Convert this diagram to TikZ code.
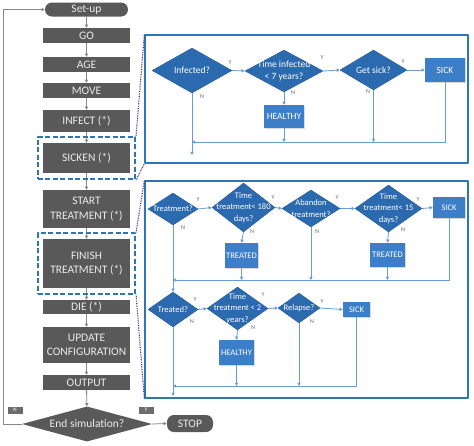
\documentclass[tikz,border=0pt]{standalone}
\usepackage{fontspec}
\setmainfont{Carlito}
\usetikzlibrary{shapes.geometric,arrows.meta,fit,shadows}
\definecolor{boxgray}{RGB}{89,89,89}
\definecolor{linegray}{RGB}{135,135,135}
\definecolor{frameblue}{RGB}{46,117,182}
\definecolor{diablue}{RGB}{44,106,176}
\definecolor{boxblue}{RGB}{60,127,200}
\definecolor{flowblue}{RGB}{105,155,212}
\definecolor{dotblue}{RGB}{58,58,140}
\definecolor{labgray}{RGB}{95,102,118}
\tikzset{
  proc/.style={rectangle, fill=boxgray, text=white!92!black, minimum width=87, inner sep=0pt,
    align=center, font=\fontsize{11.5}{14.5}\selectfont},
  term/.style={proc, rounded corners=7pt},
  decis/.style={diamond, fill=diablue, draw=diablue!85!black, line width=0.4pt, inner sep=0pt},
  dtxt/.style={text=white, align=center, font=\fontsize{9.5}{11.5}\selectfont},
  stxt/.style={text=white, align=center, font=\fontsize{8.5}{11.5}\selectfont},
  act/.style={rectangle, fill=boxblue, text=white, inner sep=0pt,
    drop shadow={shadow xshift=1pt, shadow yshift=-1pt, opacity=0.3}},
  panel/.style={rectangle, draw=frameblue, line width=1.3pt, inner sep=0pt},
  zoombox/.style={rectangle, draw=frameblue, line width=1.7pt, dash pattern=on 5pt off 2.5pt},
  dots/.style={draw=dotblue, line width=1.1pt, dash pattern=on 0.8pt off 0.9pt},
  flow/.style={draw=linegray, line width=0.8pt},
  pflow/.style={draw=flowblue, line width=0.8pt},
  yn/.style={text=labgray, inner sep=0pt, font=\fontsize{6}{6}\selectfont},
  flag/.style={fill=linegray!80!black, text=white, inner sep=0pt, minimum width=15, minimum height=7,
    font=\fontsize{5.5}{5.5}\selectfont}
}
\begin{document}
\begin{tikzpicture}[x=1pt, y=-1pt, >={Triangle[length=3.2pt,width=3.2pt]}, line join=round]
  \useasboundingbox (0,0) rectangle (474,445);

  % main loop of the model
  \node[term, minimum width=83, minimum height=14] (setup) at (86.5,9.5) {Set-up};
  \node[proc, minimum height=15] (go) at (86.5,35.5) {GO};
  \node[proc, minimum height=15] (age) at (86.5,64.5) {AGE};
  \node[proc, minimum height=15] (move) at (86.5,90.5) {MOVE};
  \node[proc, minimum height=22] (infect) at (86.5,121) {INFECT (*)};
  \node[proc, minimum height=30] (sicken) at (86.5,158) {SICKEN (*)};
  \node[proc, minimum height=38] (start) at (86.5,209) {START\\TREATMENT (*)};
  \node[proc, minimum height=49] (finish) at (86.5,263.5) {FINISH\\TREATMENT (*)};
  \node[proc, minimum height=14] (die) at (86.5,307) {DIE (*)};
  \node[proc, minimum height=36] (update) at (86.5,345) {UPDATE\\CONFIGURATION};
  \node[proc, minimum height=15] (output) at (86.5,382.5) {OUTPUT};
  \node[diamond, fill=boxgray, inner sep=0pt, minimum width=130, minimum height=35,
    label={[text=white!92!black, font=\fontsize{11.5}{13}\selectfont]center:End simulation?}] (endsim) at (87,424) {};
  \node[term, minimum width=46, minimum height=17] (stop) at (190,423.5) {STOP};
  \node[flag] (fn) at (15,410) {N};
  \node[flag] (fy) at (146,410) {Y};
  \coordinate (lp) at (3,424);

  \foreach \a/\b in {setup/go, go/age, age/move, move/infect, infect/sicken, sicken/start,
                     start/finish, finish/die, die/update, update/output, output/endsim}
    \draw[flow, ->] (\a) -- (\b);
  \draw[flow, ->] (endsim.east) -- (stop.west);
  \draw[flow, ->] (endsim.west) -- (lp) |- (setup.west);

  % dashed marks and the panels they open
  \node[zoombox, fit=(sicken), inner xsep=5pt, inner ysep=6pt] (skz) {};
  \node[zoombox, fit=(finish), inner xsep=5pt, inner ysep=5.5pt] (ftz) {};
  \node[panel, minimum width=323, minimum height=128] (p1) at (306.5,99) {};
  \node[panel, minimum width=323, minimum height=217] (p2) at (306.5,289.5) {};
  \draw[dots] (skz.north east) -- (p1.north west);
  \draw[dots] (skz.south east) -- (p1.south west);
  \draw[dots] (ftz.north east) -- (p2.north west);
  \draw[dots] (ftz.south east) -- (p2.south west);

  % panel 1: SICKEN
  \node[decis, minimum width=80, minimum height=45, label={[dtxt]center:Infected?}] (inf) at (192,70.5) {};
  \node[decis, minimum width=78, minimum height=42, label={[dtxt]center:{Time infected\\< 7 years?}}] (tinf) at (284,71) {};
  \node[decis, minimum width=67, minimum height=40, label={[dtxt]center:Get sick?}] (gsk) at (373.5,70) {};
  \node[act, dtxt, minimum width=40, minimum height=24] (sk1) at (445,70) {SICK};
  \node[act, dtxt, minimum width=40, minimum height=23] (hl1) at (284,116.5) {HEALTHY};
  \coordinate (j1) at (192,142);
  \coordinate (o1) at (192,155);
  \node[yn] (y1) at (230,63) {Y};
  \node[yn] (y2) at (322,58) {Y};
  \node[yn] (y3) at (403,62) {Y};
  \node[yn] (n1) at (202,97) {N};
  \node[yn] (n2) at (293,93) {N};
  \node[yn] (n3) at (368,92) {N};

  \draw[pflow, ->] (inf.east) -- (tinf.west);
  \draw[pflow, ->] (tinf.east) -- (gsk.west);
  \draw[pflow, ->] (gsk.east) -- (sk1.west);
  \draw[pflow, ->] (tinf.south) -- (hl1.north);
  \draw[pflow, ->] (hl1) -- (hl1 |- j1);
  \draw[pflow, ->] (gsk.south) -- (gsk |- j1);
  \draw[pflow, ->] (sk1.south) |- (j1);
  \draw[pflow, ->] (inf.south) -- (o1);

  % panel 2: START / FINISH TREATMENT
  \node[decis, minimum width=50, minimum height=32, label={[stxt]center:Treatment?}] (trt) at (173,209) {};
  \node[decis, minimum width=63, minimum height=49, label={[stxt]center:{Time\\treatment< 180\\days?}}] (t180) at (243.5,207.5) {};
  \node[decis, minimum width=58, minimum height=37, label={[stxt]center:{Abandon\\treatment?}}] (abd) at (311,208.5) {};
  \node[decis, minimum width=67, minimum height=47, label={[stxt]center:{Time\\treatment< 15\\days?}}] (t15) at (388.5,208.5) {};
  \node[act, stxt, minimum width=32, minimum height=21] (sk2) at (449,207.5) {SICK};
  \node[act, stxt, minimum width=33, minimum height=25] (td1) at (241.5,255.5) {TREATED};
  \node[act, stxt, minimum width=35, minimum height=24] (td2) at (387.5,255) {TREATED};
  \coordinate (j2) at (173,280);
  \node[yn] (y4) at (198,200) {Y};
  \node[yn] (y5) at (273,198) {Y};
  \node[yn] (y6) at (337,198) {Y};
  \node[yn] (y7) at (418,200) {Y};
  \node[yn] (n4) at (183,228) {N};
  \node[yn] (n5) at (252,232) {N};
  \node[yn] (n6) at (317,232) {N};
  \node[yn] (n7) at (403,230) {N};

  \node[decis, minimum width=50, minimum height=35, label={[stxt]center:Treated?}] (trd) at (173,309.5) {};
  \node[decis, minimum width=61, minimum height=43, label={[stxt]center:{Time\\treatment < 2\\years?}}] (t2y) at (237.5,308.5) {};
  \node[decis, minimum width=42, minimum height=30, label={[stxt]center:Relapse?}] (rlp) at (299,308) {};
  \node[act, stxt, minimum width=27, minimum height=15] (sk3) at (356.5,309.5) {SICK};
  \node[act, stxt, minimum width=35, minimum height=25] (hl2) at (236.5,352.5) {HEALTHY};
  \coordinate (j3) at (173,386);
  \coordinate (o2) at (173,396);
  \node[yn] (y8) at (195,300) {Y};
  \node[yn] (y9) at (263,295) {Y};
  \node[yn] (y10) at (322,302) {Y};
  \node[yn] (n8) at (192,322) {N};
  \node[yn] (n9) at (253,328) {N};
  \node[yn] (n10) at (312,322) {N};

  \draw[pflow, ->] (trt.east) -- (t180.west);
  \draw[pflow, ->] (t180.east) -- (abd.west);
  \draw[pflow, ->] (abd.east) -- (t15.west);
  \draw[pflow, ->] (t15.east) -- (sk2.west);
  \draw[pflow, ->] (t180.south) -- (td1.north);
  \draw[pflow, ->] (t15.south) -- (td2.north);
  \draw[pflow, ->] (td1) -- (td1 |- j2);
  \draw[pflow, ->] (abd.south) -- (abd |- j2);
  \draw[pflow, ->] (td2) -- (td2 |- j2);
  \draw[pflow, ->] (sk2.south) |- (j2);
  \draw[pflow, ->] (trt.south) -- (trd.north);

  \draw[pflow, ->] (trd.east) -- (t2y.west);
  \draw[pflow, ->] (t2y.east) -- (rlp.west);
  \draw[pflow, ->] (rlp.east) -- (sk3.west);
  \draw[pflow, ->] (t2y.south) -- (hl2.north);
  \draw[pflow, ->] (hl2) -- (hl2 |- j3);
  \draw[pflow, ->] (rlp.south) -- (rlp |- j3);
  \draw[pflow, ->] (sk3.south) |- (j3);
  \draw[pflow, ->] (trd.south) -- (o2);
\end{tikzpicture}
\end{document}
